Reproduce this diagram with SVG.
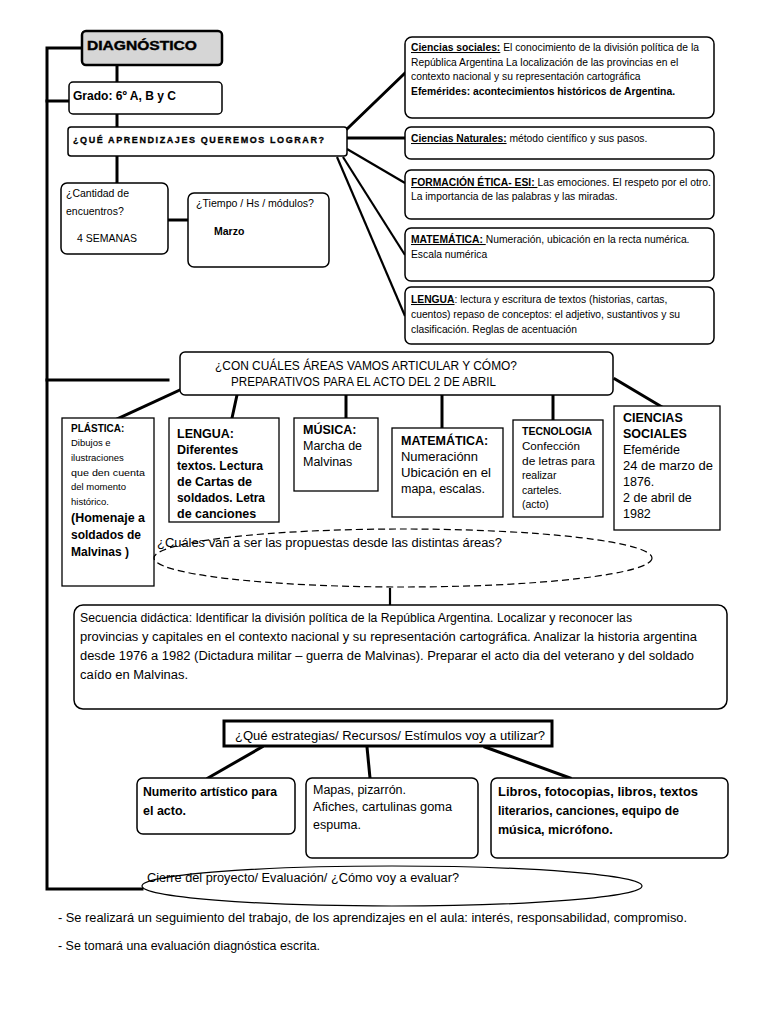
<svg xmlns="http://www.w3.org/2000/svg" width="768" height="1024" viewBox="0 0 768 1024">
<style>
  .box{fill:#fff;stroke:#000;stroke-width:1.5}
  .sq{fill:#fff;stroke:#000;stroke-width:1.3}
  .ln{stroke:#000;stroke-width:3;fill:none;stroke-linecap:square}
  .lt{stroke:#000;stroke-width:2.2;fill:none}
  text{font-family:"Liberation Sans",Arial,sans-serif;fill:#000}
  .s{font-size:10.3px}
  .b{font-weight:bold}
  .u{text-decoration:underline}
</style>
<rect width="768" height="1024" fill="#fff"/>

<g id="connectors">
  <polyline class="ln" points="82,48 47,48 47,889 142,889"/>
  <line class="ln" x1="47" y1="101" x2="69" y2="101"/>
  <line class="ln" x1="117" y1="65" x2="117" y2="82"/>
  <line class="ln" x1="117" y1="114" x2="117" y2="127"/>
  <line class="ln" x1="117" y1="156" x2="117" y2="183"/>
  <line class="ln" x1="168" y1="220" x2="188" y2="220"/>
  <line class="ln" x1="347" y1="129" x2="405" y2="73"/>
  <line class="ln" x1="347" y1="138" x2="405" y2="138"/>
  <line class="lt" x1="347" y1="149" x2="405" y2="183"/>
  <line class="lt" x1="343" y1="157" x2="405" y2="255"/>
  <line class="lt" x1="337" y1="157" x2="405" y2="316"/>
  <line class="ln" x1="47" y1="380" x2="168" y2="380"/>
  <line class="ln" x1="180" y1="390" x2="117" y2="419"/>
  <line class="ln" x1="237" y1="395" x2="232" y2="418"/>
  <line class="ln" x1="346" y1="395" x2="346" y2="418"/>
  <line class="ln" x1="442" y1="395" x2="442" y2="428"/>
  <line class="ln" x1="553" y1="395" x2="553" y2="420"/>
  <line class="ln" x1="615" y1="379" x2="662" y2="407"/>
  <line class="lt" x1="390" y1="588" x2="390" y2="605"/>
  <line class="ln" x1="262" y1="747" x2="208" y2="778"/>
  <line class="ln" x1="367" y1="747" x2="370" y2="778"/>
  <line class="ln" x1="485" y1="747" x2="570" y2="778"/>
</g>

<g id="diagnostico">
  <rect x="82" y="31" width="140" height="34" rx="4" fill="#d6d6d6" stroke="#000" stroke-width="2.5"/>
  <text x="87" y="50" font-size="13" class="b" stroke="#000" stroke-width="0.4" textLength="110" lengthAdjust="spacingAndGlyphs">DIAGNÓSTICO</text>
</g>

<g id="grado">
  <rect class="box" x="69" y="82" width="153" height="32" rx="4" stroke-width="2.5"/>
  <text x="73" y="100" font-size="13.5" class="b" textLength="103" lengthAdjust="spacingAndGlyphs">Grado: 6º A, B y C</text>
</g>

<g id="que-aprendizajes">
  <rect class="box" x="68" y="127" width="279" height="29" rx="3" stroke-width="2.5"/>
  <text x="73" y="143" font-size="9" class="b" stroke="#000" stroke-width="0.3" textLength="251" lengthAdjust="spacing">¿QUÉ APRENDIZAJES QUEREMOS LOGRAR?</text>
</g>

<g id="cantidad">
  <rect class="box" x="61" y="183" width="107" height="71" rx="6"/>
  <text x="66" y="197" font-size="10.5">¿Cantidad de</text>
  <text x="66" y="215" font-size="10.5">encuentros?</text>
  <text x="77" y="242" font-size="10.5">4 SEMANAS</text>
</g>

<g id="tiempo">
  <rect class="box" x="188" y="193" width="141" height="74" rx="6"/>
  <text x="196" y="207" font-size="10.5" textLength="118" lengthAdjust="spacingAndGlyphs">¿Tiempo / Hs / módulos?</text>
  <text x="214" y="235" font-size="10.5" class="b">Marzo</text>
</g>

<g id="ciencias-sociales">
  <rect class="box" x="405" y="37" width="309" height="81" rx="7"/>
  <text class="s" x="411" y="51"><tspan class="b u">Ciencias sociales:</tspan>  El conocimiento de la división política de la</text>
  <text class="s" x="411" y="66">República Argentina  La localización de las provincias en el</text>
  <text class="s" x="411" y="80">contexto nacional y su representación cartográfica</text>
  <text class="s b" x="411" y="95" textLength="264" lengthAdjust="spacingAndGlyphs">Efemérides: acontecimientos históricos de Argentina.</text>
</g>

<g id="ciencias-naturales">
  <rect class="box" x="405" y="127" width="309" height="32" rx="6"/>
  <text class="s" x="411" y="142"><tspan class="b u">Ciencias Naturales:</tspan> método científico y sus pasos.</text>
</g>

<g id="formacion-etica">
  <rect class="box" x="405" y="170" width="309" height="49" rx="6"/>
  <text class="s" x="411" y="186"><tspan class="b u">FORMACIÓN ÉTICA- ESI: </tspan>Las emociones. El respeto por el otro.</text>
  <text class="s" x="411" y="200">La importancia de las palabras y las miradas.</text>
</g>

<g id="matematica-top">
  <rect class="box" x="405" y="228" width="309" height="53" rx="6"/>
  <text class="s" x="411" y="243"><tspan class="b u">MATEMÁTICA: </tspan>Numeración, ubicación en la recta numérica.</text>
  <text class="s" x="411" y="258">Escala numérica</text>
</g>

<g id="lengua-top">
  <rect class="box" x="405" y="287" width="309" height="57" rx="6"/>
  <text class="s" x="411" y="303"><tspan class="b u">LENGUA</tspan>: lectura y escritura de textos (historias, cartas,</text>
  <text class="s" x="411" y="318">cuentos) repaso de conceptos: el adjetivo, sustantivos y su</text>
  <text class="s" x="411" y="333">clasificación.  Reglas de acentuación</text>
</g>

<g id="con-cuales-areas">
  <rect class="box" x="180" y="352" width="433" height="43" rx="5" stroke-width="2.5"/>
  <text x="215" y="370" font-size="12.5" textLength="302" lengthAdjust="spacingAndGlyphs">¿CON CUÁLES ÁREAS VAMOS ARTICULAR Y CÓMO?</text>
  <text x="231" y="386" font-size="12.5" textLength="265" lengthAdjust="spacingAndGlyphs">PREPARATIVOS PARA EL ACTO DEL 2 DE ABRIL</text>
</g>

<g id="plastica">
  <rect class="sq" x="62" y="418" width="92" height="168"/>
  <text x="71" y="432" font-size="10" class="b">PLÁSTICA:</text>
  <text x="71" y="446" font-size="9.5">Dibujos e</text>
  <text x="71" y="461" font-size="9.5">ilustraciones</text>
  <text x="71" y="476" font-size="9.5" textLength="74" lengthAdjust="spacingAndGlyphs">que den cuenta</text>
  <text x="71" y="490" font-size="9.5">del momento</text>
  <text x="71" y="505" font-size="9.5">histórico.</text>
  <text x="71" y="522" font-size="12" class="b" textLength="74" lengthAdjust="spacingAndGlyphs">(Homenaje a</text>
  <text x="71" y="539" font-size="12" class="b">soldados de</text>
  <text x="71" y="556" font-size="12" class="b">Malvinas )</text>
</g>

<g id="lengua">
  <rect class="sq" x="169" y="418" width="110" height="104"/>
  <text x="177" y="438" font-size="12.5" class="b">LENGUA:</text>
  <text x="177" y="454" font-size="12.5" class="b">Diferentes</text>
  <text x="177" y="470" font-size="12.5" class="b" textLength="86" lengthAdjust="spacingAndGlyphs">textos. Lectura</text>
  <text x="177" y="486" font-size="12.5" class="b">de Cartas de</text>
  <text x="177" y="502" font-size="12.5" class="b" textLength="88" lengthAdjust="spacingAndGlyphs">soldados. Letra</text>
  <text x="177" y="518" font-size="12.5" class="b">de canciones</text>
</g>

<g id="musica">
  <rect class="sq" x="294" y="418" width="84" height="73"/>
  <text x="303" y="434" font-size="12.5" class="b">MÚSICA:</text>
  <text x="303" y="450" font-size="12.5">Marcha de</text>
  <text x="303" y="466" font-size="12.5">Malvinas</text>
</g>

<g id="matematica">
  <rect class="sq" x="392" y="428" width="111" height="89"/>
  <text x="401" y="445" font-size="12.5" class="b">MATEMÁTICA:</text>
  <text x="401" y="461" font-size="12.5" textLength="77" lengthAdjust="spacingAndGlyphs">Numeraciónn</text>
  <text x="401" y="477" font-size="12.5" textLength="90" lengthAdjust="spacingAndGlyphs">Ubicación en  el</text>
  <text x="401" y="493" font-size="12.5" textLength="84" lengthAdjust="spacingAndGlyphs">mapa, escalas.</text>
</g>

<g id="tecnologia">
  <rect class="sq" x="513" y="420" width="90" height="97"/>
  <text x="522" y="435" font-size="10.5" class="b">TECNOLOGIA</text>
  <text x="522" y="450" font-size="10.5" textLength="58" lengthAdjust="spacingAndGlyphs">Confección</text>
  <text x="522" y="465" font-size="10.5" textLength="73" lengthAdjust="spacingAndGlyphs">de letras para</text>
  <text x="522" y="479" font-size="10.5">realizar</text>
  <text x="522" y="494" font-size="10.5">carteles.</text>
  <text x="522" y="508" font-size="10.5">(acto)</text>
</g>

<g id="ciencias-sociales-2">
  <rect class="sq" x="614" y="406" width="106" height="124"/>
  <text x="623" y="422" font-size="12.5" class="b">CIENCIAS</text>
  <text x="623" y="438" font-size="12.5" class="b">SOCIALES</text>
  <text x="623" y="454" font-size="12.5">Efeméride</text>
  <text x="623" y="470" font-size="12.5" textLength="90" lengthAdjust="spacingAndGlyphs">24 de marzo de</text>
  <text x="623" y="486" font-size="12.5">1876.</text>
  <text x="623" y="502" font-size="12.5">2  de abril de</text>
  <text x="623" y="518" font-size="12.5">1982</text>
</g>

<g id="propuestas">
  <ellipse cx="403" cy="558" rx="249" ry="29" fill="none" stroke="#000" stroke-width="1.2" stroke-dasharray="7,4"/>
  <text x="157" y="547" font-size="12" textLength="345" lengthAdjust="spacingAndGlyphs">¿Cuáles van a ser las propuestas desde las distintas áreas?</text>
</g>

<g id="secuencia">
  <rect class="box" x="74" y="605" width="653" height="104" rx="9"/>
  <text x="80" y="622" font-size="12.5" textLength="552" lengthAdjust="spacingAndGlyphs">Secuencia didáctica: Identificar la división política de la República Argentina. Localizar y reconocer las</text>
  <text x="80" y="641" font-size="12.5" textLength="617" lengthAdjust="spacingAndGlyphs">provincias y capitales en el contexto nacional y su representación cartográfica. Analizar la historia argentina</text>
  <text x="80" y="660" font-size="12.5" textLength="614" lengthAdjust="spacingAndGlyphs">desde 1976 a 1982 (Dictadura militar – guerra de Malvinas). Preparar el acto dia del veterano y del soldado</text>
  <text x="80" y="679" font-size="12.5" textLength="108" lengthAdjust="spacingAndGlyphs">caído en Malvinas.</text>
</g>

<g id="estrategias">
  <rect x="224" y="721" width="328" height="25" fill="#fff" stroke="#000" stroke-width="3"/>
  <text x="235" y="740" font-size="12.5" textLength="310" lengthAdjust="spacingAndGlyphs">¿Qué estrategias/ Recursos/ Estímulos voy a utilizar?</text>
</g>

<g id="numerito">
  <rect class="box" x="137" y="778" width="158" height="56" rx="6"/>
  <text x="143" y="796" font-size="12.5" class="b" textLength="134" lengthAdjust="spacingAndGlyphs">Numerito artístico para</text>
  <text x="143" y="815" font-size="12.5" class="b">el acto.</text>
</g>

<g id="mapas">
  <rect class="box" x="306" y="778" width="172" height="80" rx="6"/>
  <text x="313" y="794" font-size="12.5" textLength="93" lengthAdjust="spacingAndGlyphs">Mapas, pizarrón.</text>
  <text x="313" y="811" font-size="12.5" textLength="139" lengthAdjust="spacingAndGlyphs">Afiches, cartulinas goma</text>
  <text x="313" y="829" font-size="12.5">espuma.</text>
</g>

<g id="libros">
  <rect class="box" x="491" y="778" width="237" height="80" rx="6"/>
  <text x="498" y="796" font-size="12.5" class="b" textLength="200" lengthAdjust="spacingAndGlyphs">Libros, fotocopias, libros,  textos</text>
  <text x="498" y="815" font-size="12.5" class="b" textLength="181" lengthAdjust="spacingAndGlyphs">literarios, canciones, equipo de</text>
  <text x="498" y="834" font-size="12.5" class="b">música, micrófono.</text>
</g>

<g id="cierre">
  <ellipse cx="392" cy="886" rx="250" ry="20" fill="none" stroke="#000" stroke-width="1.2"/>
  <text x="147" y="882" font-size="12.5" textLength="312" lengthAdjust="spacingAndGlyphs">Cierre del proyecto/ Evaluación/ ¿Cómo voy a evaluar?</text>
</g>

<g id="evaluacion-texto">
  <text x="58" y="922" font-size="12.5" textLength="629" lengthAdjust="spacingAndGlyphs">- Se realizará un seguimiento del trabajo, de los aprendizajes en el aula: interés, responsabilidad, compromiso.</text>
  <text x="58" y="950" font-size="12.5" textLength="262" lengthAdjust="spacingAndGlyphs">- Se tomará una evaluación diagnóstica escrita.</text>
</g>
</svg>
